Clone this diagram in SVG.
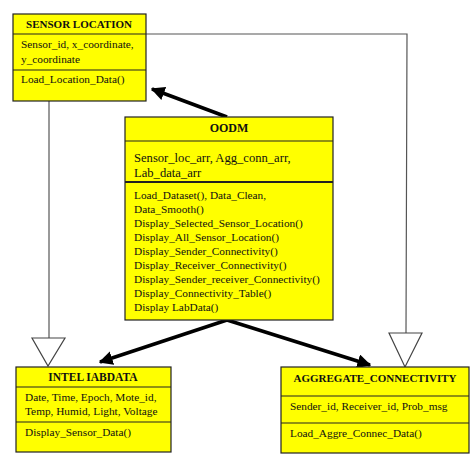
<svg xmlns="http://www.w3.org/2000/svg" width="474" height="474" viewBox="0 0 474 474">
<defs>
<style>
.box{fill:#ffff00;stroke:#222;stroke-width:1.2}
.div{stroke:#222;stroke-width:1.2}
.t{font-family:'Liberation Serif','Times New Roman','DejaVu Serif',serif;font-size:11.3px;fill:#111}
.tb{font-family:'Liberation Serif','Times New Roman','DejaVu Serif',serif;font-size:11px;font-weight:bold;fill:#111;text-anchor:middle}
.big{font-size:12.6px}
.gen{fill:none;stroke:#555;stroke-width:1.2}
.tri{fill:#fff;stroke:#444;stroke-width:1.2}
.assoc{stroke:#000;stroke-width:3.5;fill:none}
</style>
<marker id="ah" viewBox="0 0 10 10" refX="9" refY="5" markerWidth="4" markerHeight="4" orient="auto" markerUnits="strokeWidth">
<path d="M0,0 L10,5 L0,10 z" fill="#000"/>
</marker>
</defs>
<rect width="474" height="474" fill="#fff"/>
<g id="connectors">
<polyline class="gen" points="146,34 407,34 406,333"/>
<polygon class="tri" points="389,333 422,333 405,367"/>
<line class="gen" x1="49" y1="101" x2="49" y2="338"/>
<polygon class="tri" points="32,338 65,338 48,366"/>
<line class="assoc" x1="227" y1="117" x2="152" y2="89" marker-end="url(#ah)"/>
<line class="assoc" x1="227" y1="320" x2="100" y2="362" marker-end="url(#ah)"/>
<line class="assoc" x1="227" y1="320" x2="370" y2="365" marker-end="url(#ah)"/>
</g>
<g id="sensor_location">
<rect class="box" x="13" y="14" width="133" height="87"/>
<line class="div" x1="13" y1="34" x2="146" y2="34"/>
<line class="div" x1="13" y1="70" x2="146" y2="70"/>
<text class="tb" x="79" y="28">SENSOR  LOCATION</text>
<text class="t" x="21" y="48">Sensor_id, x_coordinate,</text>
<text class="t" x="21" y="63">y_coordinate</text>
<text class="t" x="21" y="83">Load_Location_Data()</text>
</g>
<g id="oodm">
<rect class="box" x="125" y="117" width="208" height="203"/>
<line class="div" x1="125" y1="141" x2="333" y2="141"/>
<line class="div" x1="125" y1="182" x2="333" y2="182" style="stroke-width:2"/>
<text class="tb" x="229" y="132" style="font-size:12px">OODM</text>
<text class="t big" x="134" y="162">Sensor_loc_arr, Agg_conn_arr,</text>
<text class="t big" x="134" y="177">Lab_data_arr</text>
<text class="t" x="134" y="199">Load_Dataset(), Data_Clean,</text>
<text class="t" x="134" y="213">Data_Smooth()</text>
<text class="t" x="134" y="227">Display_Selected_Sensor_Location()</text>
<text class="t" x="134" y="241">Display_All_Sensor_Location()</text>
<text class="t" x="134" y="255">Display_Sender_Connectivity()</text>
<text class="t" x="134" y="269">Display_Receiver_Connectivity()</text>
<text class="t" x="134" y="283">Display_Sender_receiver_Connectivity()</text>
<text class="t" x="134" y="297">Display_Connectivity_Table()</text>
<text class="t" x="134" y="311">Display  LabData()</text>
</g>
<g id="intel_labdata">
<rect class="box" x="16" y="367" width="155" height="85"/>
<line class="div" x1="16" y1="387" x2="171" y2="387"/>
<line class="div" x1="16" y1="422" x2="171" y2="422"/>
<text class="tb" x="93" y="381" style="font-size:11.5px">INTEL  IABDATA</text>
<text class="t" x="25" y="401">Date, Time, Epoch, Mote_id,</text>
<text class="t" x="25" y="415">Temp, Humid, Light, Voltage</text>
<text class="t" x="25" y="436">Display_Sensor_Data()</text>
</g>
<g id="aggregate_connectivity">
<rect class="box" x="281" y="367" width="188" height="86"/>
<line class="div" x1="281" y1="396" x2="469" y2="396"/>
<line class="div" x1="281" y1="423" x2="469" y2="423"/>
<text class="tb" x="375" y="382">AGGREGATE_CONNECTIVITY</text>
<text class="t" x="290" y="410">Sender_id, Receiver_id, Prob_msg</text>
<text class="t" x="290" y="437">Load_Aggre_Connec_Data()</text>
</g>
</svg>
